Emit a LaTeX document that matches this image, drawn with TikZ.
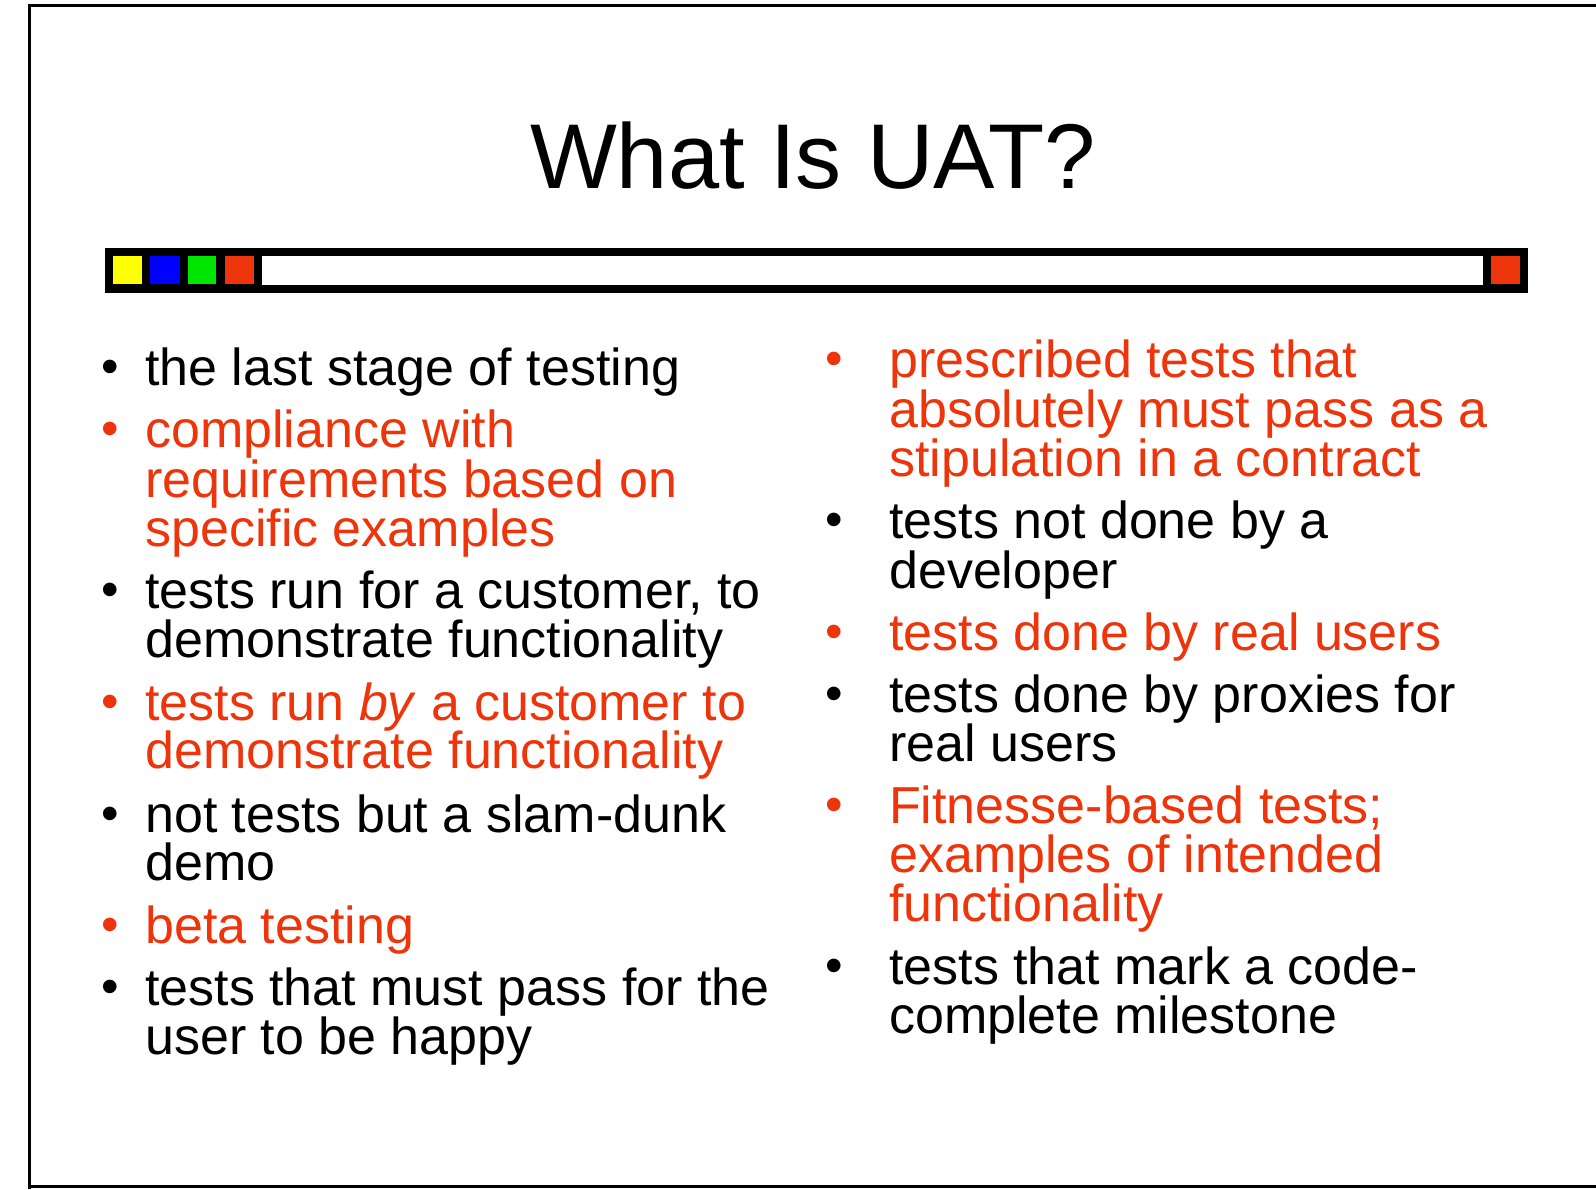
\documentclass[tikz,border=0pt]{standalone}
\usepackage{fontspec}
\setmainfont{Liberation Sans}
\definecolor{pred}{RGB}{238,52,10}
\definecolor{pyel}{RGB}{255,255,0}
\definecolor{pblu}{RGB}{0,0,255}
\definecolor{pgrn}{RGB}{0,230,0}
\begin{document}
\begin{tikzpicture}[x=1pt,y=-1pt,
  txt/.style={anchor=base west,inner sep=0pt,font=\fontsize{52}{56}\selectfont},
  rtxt/.style={txt,text=pred},
  blt/.style={anchor=base,inner sep=0pt,font=\fontsize{50}{50}\selectfont}]
\useasboundingbox (0,0) rectangle (1596,1189);
\fill[white] (0,0) rectangle (1596,1189);
\draw[line width=3pt] (29,1189) -- (29,5) -- (1596,5);
\draw[line width=3pt] (29,1186) -- (1596,1186);
\node[anchor=base,inner sep=0pt,font=\fontsize{92}{100}\selectfont] (title) at (813,188) {What Is UAT?};
% bar
\fill[black] (105,248) rectangle (1528,293);
\fill[white] (262,256) rectangle (1483,285);
\fill[pyel] (113,256) rectangle (142,284);
\fill[pblu] (150,256) rectangle (180,284);
\fill[pgrn] (188,256) rectangle (216,284);
\fill[pred] (225,256) rectangle (254,284);
\fill[pred] (1491,256) rectangle (1520,284);
% left column
\foreach \y/\c in {385/black,447/pred,608/black,720/pred,832/black,943/pred,1005/black}
  \node[blt,text=\c] at (110,\y-2) {•};
\node[txt] (l1) at (145,385) {the last stage of testing};
\node[rtxt] (l2) at (145,447) {compliance with};
\node[rtxt] (l3) at (145,497) {requirements based on};
\node[rtxt] (l4) at (145,546) {specific examples};
\node[txt] (l5) at (145,608) {tests run for a customer, to};
\node[txt] (l6) at (145,657) {demonstrate functionality};
\node[rtxt] (l7) at (145,720) {tests run \textit{by} a customer to};
\node[rtxt] (l8) at (145,768) {demonstrate functionality};
\node[txt] (l9) at (145,832) {not tests but a slam-dunk};
\node[txt] (l10) at (145,880) {demo};
\node[rtxt] (l11) at (145,943) {beta testing};
\node[txt] (l12) at (145,1005) {tests that must pass for the};
\node[txt] (l13) at (145,1054) {user to be happy};
% right column
\foreach \y/\c in {377/pred,538/black,650/pred,712/black,823/pred,984/black}
  \node[blt,text=\c] at (834,\y-2) {•};
\node[rtxt] (r1) at (889,377) {prescribed tests that};
\node[rtxt] (r2) at (889,427) {absolutely must pass as a};
\node[rtxt] (r3) at (889,476) {stipulation in a contract};
\node[txt] (r4) at (889,538) {tests not done by a};
\node[txt] (r5) at (889,588) {developer};
\node[rtxt] (r6) at (889,650) {tests done by real users};
\node[txt] (r7) at (889,712) {tests done by proxies for};
\node[txt] (r8) at (889,761) {real users};
\node[rtxt] (r9) at (889,823) {Fitnesse-based tests;};
\node[rtxt] (r10) at (889,872) {examples of intended};
\node[rtxt] (r11) at (889,921) {functionality};
\node[txt] (r12) at (889,984) {tests that mark a code-};
\node[txt] (r13) at (889,1033) {complete milestone};
\end{tikzpicture}
\end{document}
